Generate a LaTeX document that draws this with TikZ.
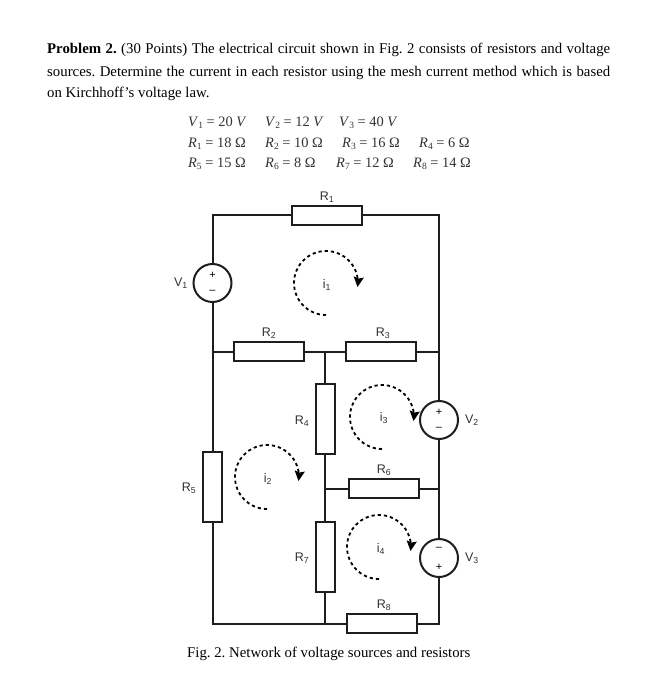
\documentclass[tikz,border=0pt]{standalone}
\usepackage{fontspec}
\setmainfont{Liberation Serif}
\setsansfont{Liberation Sans}
\usetikzlibrary{arrows.meta}
\definecolor{wirecol}{HTML}{1E1E1E}
\definecolor{labcol}{HTML}{333333}
\frenchspacing
\newcommand{\qsub}[2]{\textit{#1}\raisebox{-0.3ex}{\fontsize{9.5}{10}\selectfont #2}}
\tikzset{
  wire/.style={line width=2pt,draw=wirecol},
  resistor/.style={draw=wirecol,line width=2pt,fill=white,rectangle,inner sep=0pt,minimum width=70pt,minimum height=19pt},
  vresistor/.style={draw=wirecol,line width=2pt,fill=white,rectangle,inner sep=0pt,minimum width=19pt,minimum height=70pt},
  source/.style={draw=wirecol,line width=2pt,fill=white,circle,inner sep=0pt,minimum size=38pt},
  lab/.style={font=\sffamily\fontsize{12.5}{14}\selectfont,text=labcol,inner sep=0pt},
  sign/.style={font=\sffamily\fontsize{11}{12}\selectfont,text=black,inner sep=0pt},
  mesh/.style={line width=1.8pt,draw=black,dash pattern=on 3.2pt off 3pt,-{Stealth[length=10pt,width=10pt,inset=1.5pt]}},
  body/.style={font=\fontsize{14.8}{17}\selectfont,anchor=base west,inner sep=0pt,text=black},
  eqn/.style={font=\fontsize{14.4}{17}\selectfont,anchor=base west,inner sep=0pt,text=labcol},
}
\begin{document}
\begin{tikzpicture}[x=1pt,y=-1pt]
\useasboundingbox (0,0) rectangle (645,700);
\fill[white] (0,0) rectangle (645,700);

% Problem text
\node[body] (t1) at (47,54) {\makebox[563pt][s]{\textbf{Problem 2.} (30 Points) The electrical circuit shown in Fig. 2 consists of resistors and voltage}};
\node[body] (t2) at (47,77) {\makebox[563pt][s]{sources. Determine the current in each resistor using the mesh current method which is based}};
\node[body] (t3) at (47,98) {on Kirchhoff’s voltage law.};

% Values
\node[eqn] (e1) at (188,127) {\qsub{V}{1} = 20 \textit{V}};
\node[eqn] (e2) at (265,127) {\qsub{V}{2} = 12 \textit{V}};
\node[eqn] (e3) at (339,127) {\qsub{V}{3} = 40 \textit{V}};
\node[eqn] (e4) at (188,148) {\qsub{R}{1} = 18 Ω};
\node[eqn] (e5) at (265,148) {\qsub{R}{2} = 10 Ω};
\node[eqn] (e6) at (342,148) {\qsub{R}{3} = 16 Ω};
\node[eqn] (e7) at (419,148) {\qsub{R}{4} = 6 Ω};
\node[eqn] (e8) at (188,168) {\qsub{R}{5} = 15 Ω};
\node[eqn] (e9) at (265,168) {\qsub{R}{6} = 8 Ω};
\node[eqn] (e10) at (336,168) {\qsub{R}{7} = 12 Ω};
\node[eqn] (e11) at (413,168) {\qsub{R}{8} = 14 Ω};

% Junctions
\coordinate (TL) at (212.5,215.5);
\coordinate (TR) at (439,215.5);
\coordinate (ML) at (212.5,351.5);
\coordinate (MM) at (325,351.5);
\coordinate (MR) at (439,351.5);
\coordinate (J6) at (325,488.5);
\coordinate (K6) at (439,488.5);
\coordinate (BL) at (212.5,623.5);
\coordinate (BM) at (325,623.5);
\coordinate (BR) at (439,623.5);

% Components
\node[resistor] (R1) at (327,215.5) {};
\node[resistor] (R2) at (268.5,351.5) {};
\node[resistor] (R3) at (381,351.5) {};
\node[vresistor] (R4) at (325,418.5) {};
\node[vresistor] (R5) at (212.5,487) {};
\node[resistor] (R6) at (383.5,488.5) {};
\node[vresistor] (R7) at (325,556.5) {};
\node[resistor] (R8) at (382,623.5) {};
\node[source] (V1) at (212.5,283) {};
\node[source] (V2) at (439,420) {};
\node[source] (V3) at (439,558) {};

% Wires
\draw[wire] (V1.north) -- (TL) -- (R1.west);
\draw[wire] (R1.east) -- (TR) -- (MR) -- (V2.north);
\draw[wire] (V1.south) -- (ML) -- (R5.north);
\draw[wire] (ML) -- (R2.west);
\draw[wire] (R2.east) -- (MM) -- (R3.west);
\draw[wire] (R3.east) -- (MR);
\draw[wire] (MM) -- (R4.north);
\draw[wire] (R4.south) -- (J6) -- (R7.north);
\draw[wire] (J6) -- (R6.west);
\draw[wire] (R6.east) -- (K6);
\draw[wire] (V2.south) -- (K6) -- (V3.north);
\draw[wire] (R7.south) -- (BM);
\draw[wire] (R5.south) -- (BL) -- (BM) -- (R8.west);
\draw[wire] (R8.east) -- (BR) -- (V3.south);

% Source signs
\node[sign] (V1p) at (212.5,275) {+};
\node[sign] (V1m) at (212.5,292) {–};
\node[sign] (V2p) at (439,412) {+};
\node[sign] (V2m) at (439,429) {–};
\node[sign] (V3m) at (439,549) {–};
\node[sign] (V3p) at (439,567) {+};

% Labels
\node[lab] (lR1) at (327,197) {R\textsubscript{1}};
\node[lab] (lR2) at (269,333) {R\textsubscript{2}};
\node[lab] (lR3) at (383,333) {R\textsubscript{3}};
\node[lab] (lR4) at (302,421) {R\textsubscript{4}};
\node[lab] (lR5) at (189,488) {R\textsubscript{5}};
\node[lab] (lR6) at (384,470) {R\textsubscript{6}};
\node[lab] (lR7) at (302,558) {R\textsubscript{7}};
\node[lab] (lR8) at (384,605) {R\textsubscript{8}};
\node[lab] (lV1) at (181,283) {V\textsubscript{1}};
\node[lab] (lV2) at (472,420) {V\textsubscript{2}};
\node[lab] (lV3) at (472,558) {V\textsubscript{3}};

% Mesh currents
\node[lab] (i1) at (327,285) {i\textsubscript{1}};
\node[lab] (i2) at (268,479) {i\textsubscript{2}};
\node[lab] (i3) at (384,418) {i\textsubscript{3}};
\node[lab] (i4) at (381,549) {i\textsubscript{4}};
\draw[mesh] (326,315) arc[start angle=90,end angle=360,radius=32] -- ++(-0.5,4);
\draw[mesh] (267,509) arc[start angle=90,end angle=360,radius=32] -- ++(-0.5,4);
\draw[mesh] (382,449) arc[start angle=90,end angle=360,radius=32] -- ++(-0.5,4);
\draw[mesh] (379,579) arc[start angle=90,end angle=360,radius=32] -- ++(-0.5,4);

% Caption
\node[body] (cap) at (187,657) {Fig. 2. Network of voltage sources and resistors};
\end{tikzpicture}
\end{document}
